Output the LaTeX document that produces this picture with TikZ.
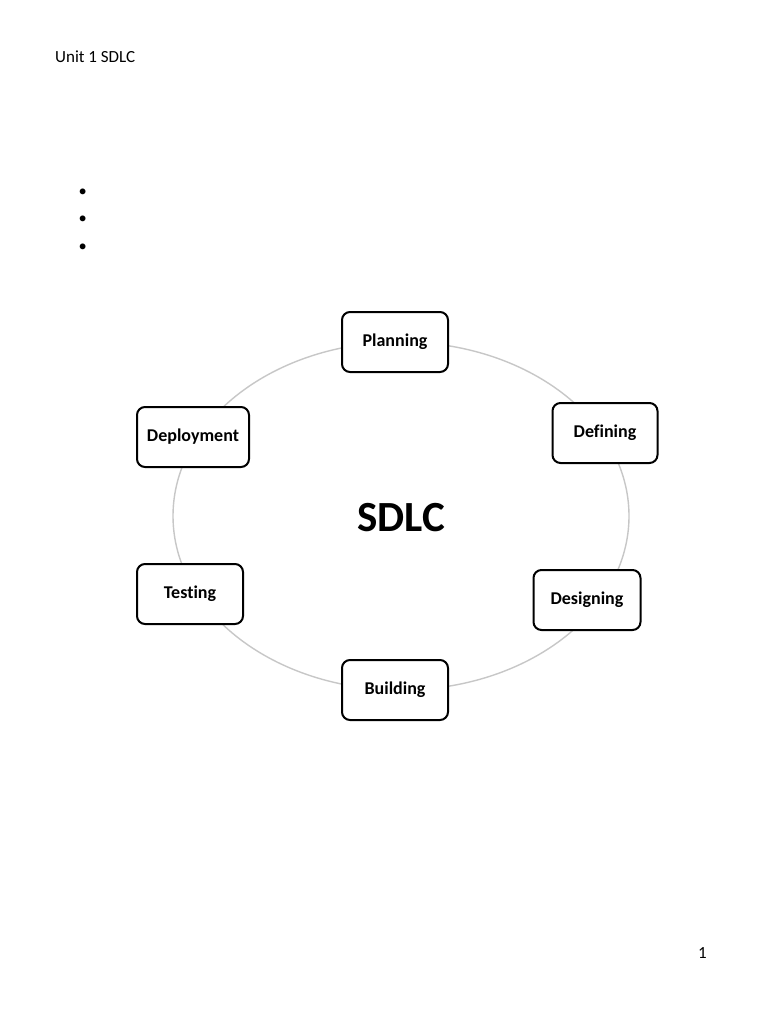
\documentclass[tikz,border=0pt]{standalone}
\usepackage{fontspec}
\setmainfont{Carlito}[Ligatures={NoCommon}]
\begin{document}
\begin{tikzpicture}[x=1pt,y=-1pt,
  phase/.style={draw=black,line width=2pt,rounded corners=8pt,fill=white,
    minimum height=60pt,inner sep=0pt,font=\fontsize{18}{21}\selectfont\bfseries},
  ring/.style={draw=black!22,line width=1.4pt},
  pagetext/.style={anchor=base west,inner sep=0pt,font=\fontsize{17}{20}\selectfont},
  bullet/.style={inner sep=0pt,font=\fontsize{16.5}{19}\selectfont}]
\useasboundingbox (0,0) rectangle (768,1024);
\fill[white] (0,0) rectangle (768,1024);
\node[pagetext] (title) at (55,63) {Unit 1 SDLC};
\node[bullet] (b1) at (82.7,193) {•};
\node[bullet] (b2) at (82.7,220) {•};
\node[bullet] (b3) at (82.7,248) {•};
\coordinate (c) at (401,516);
\draw[ring] (c) ellipse [x radius=228, y radius=174];
\node[phase,minimum width=106pt] (plan) at (395,342) {Planning};
\node[phase,minimum width=105pt] (def) at (605,433) {Defining};
\node[phase,minimum width=112pt] (dep) at (193,437) {Deployment};
\node[phase,minimum width=106pt] (test) at (190,594) {Testing};
\node[phase,minimum width=107pt] (des) at (587,600) {Designing};
\node[phase,minimum width=106pt] (build) at (395,690) {Building};
\node[inner sep=0pt,font=\fontsize{43}{50}\selectfont\bfseries] (sdlc) at (401,518) {SDLC};
\node[pagetext] (pg) at (698,958) {1};
\end{tikzpicture}
\end{document}
